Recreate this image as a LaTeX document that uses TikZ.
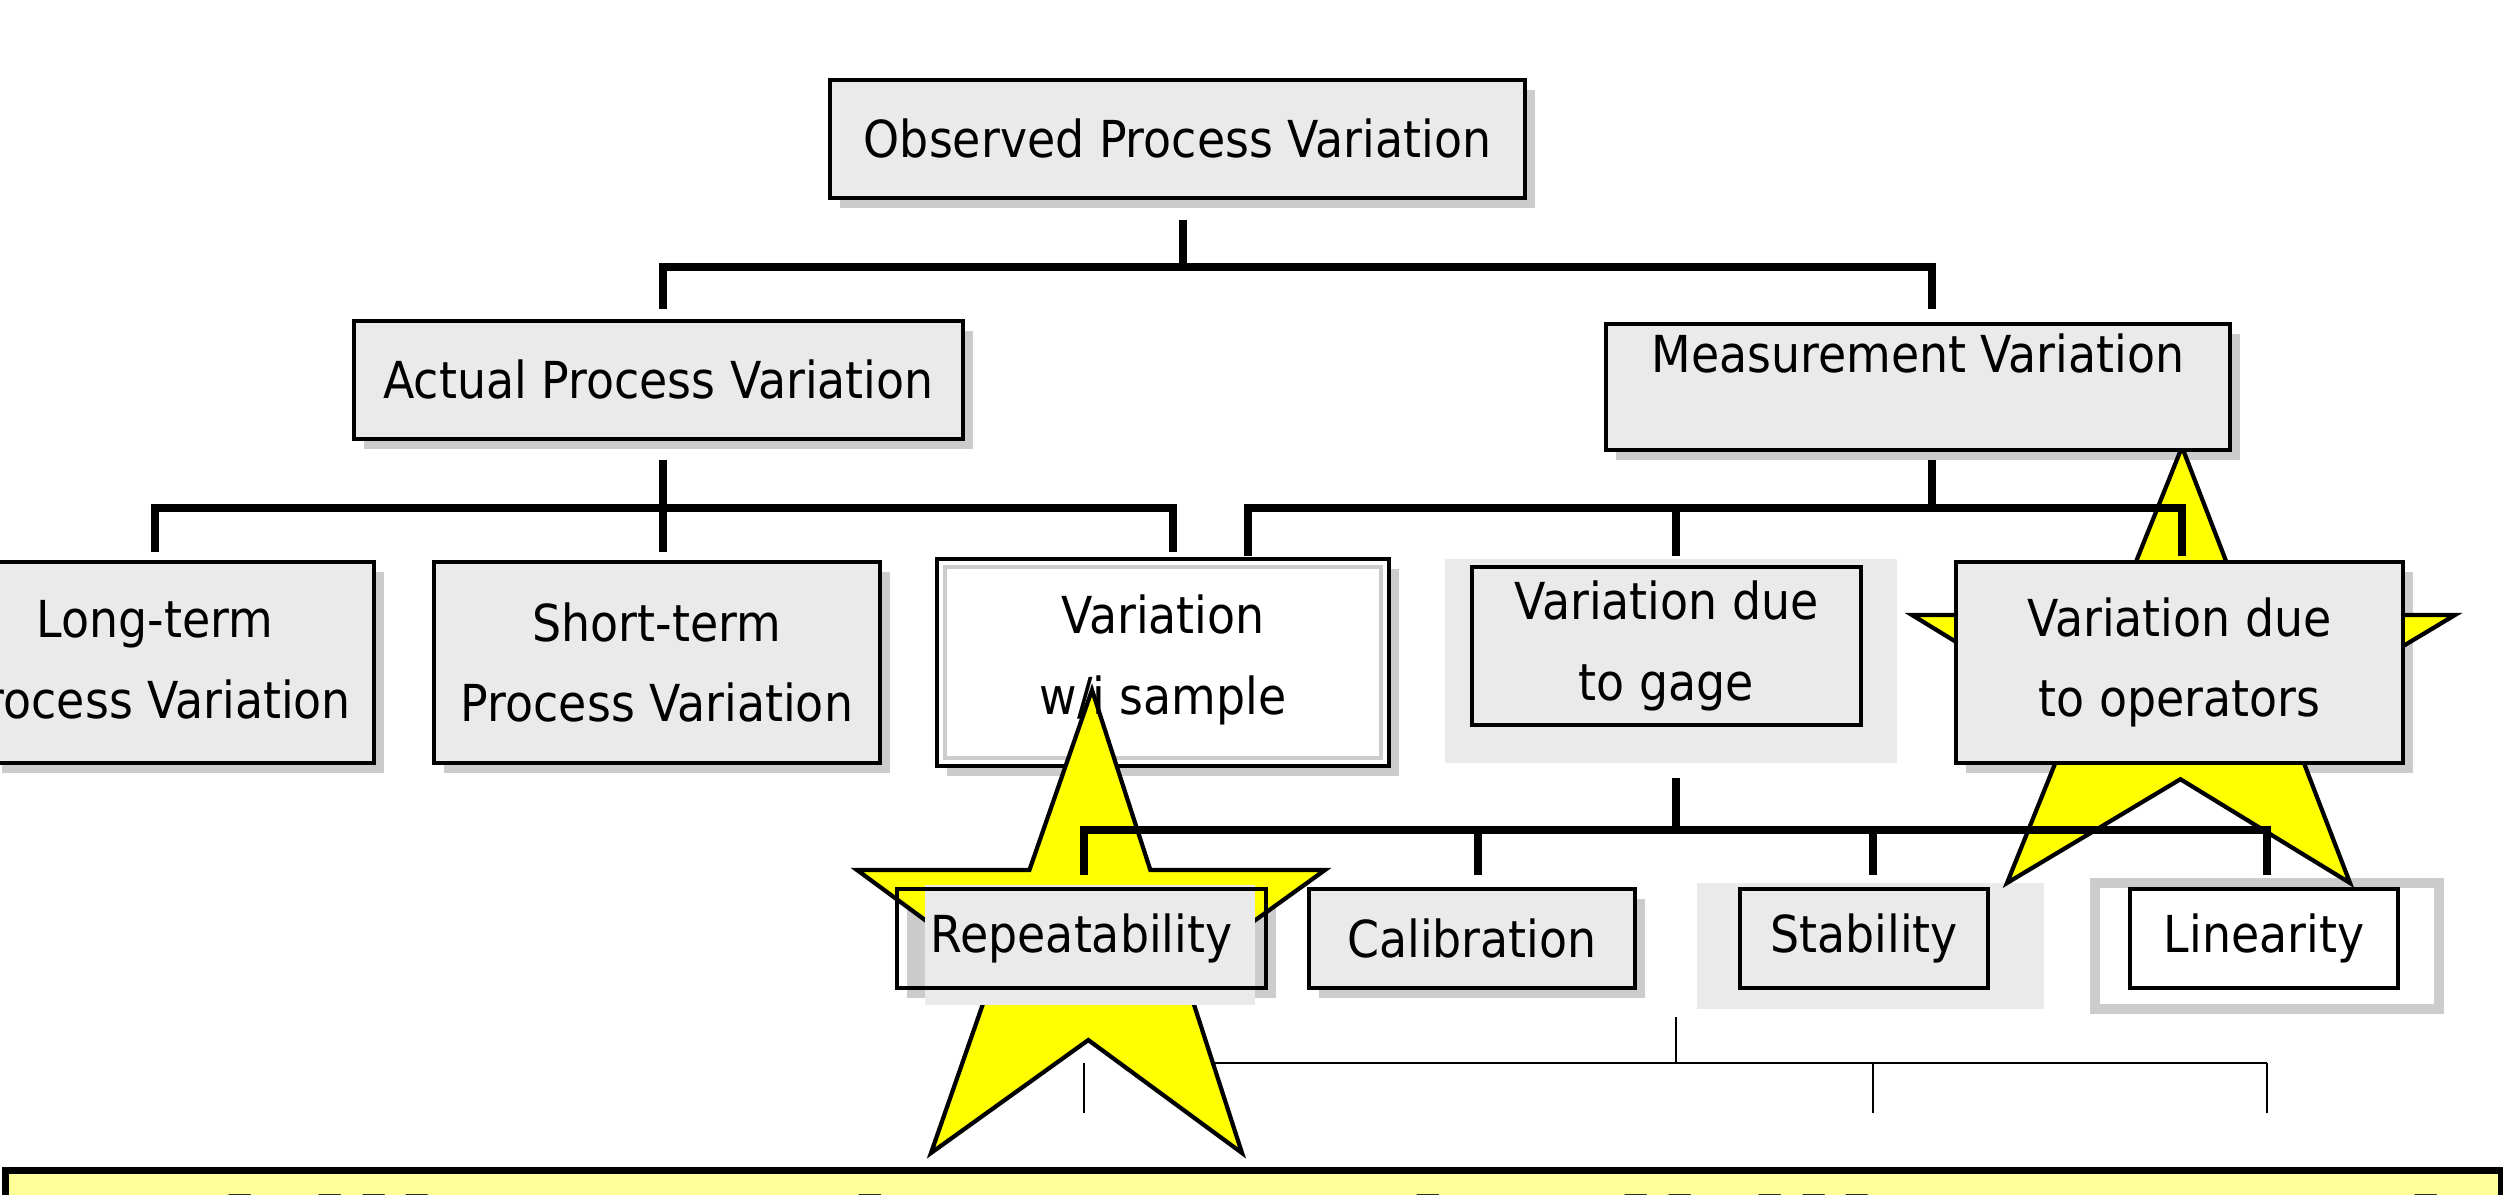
\documentclass[tikz,border=0pt]{standalone}
\usepackage{fontspec}
\setmainfont{DejaVu Sans}[FakeStretch=0.9]
\usetikzlibrary{calc}
\definecolor{boxgray}{RGB}{234,234,234}
\definecolor{shad}{RGB}{204,204,204}
\definecolor{stary}{RGB}{255,255,0}
\definecolor{bannery}{RGB}{255,255,153}
\tikzset{
  box/.style={draw=black,line width=1.3pt,fill=boxgray,inner sep=0pt,align=center,
    font=\fontsize{14.5}{23}\selectfont},
  wbox/.style={box,fill=white},
  conn/.style={line width=2.1pt},
  thin/.style={line width=0.5pt},
  txt/.style={align=center,inner sep=0pt,font=\fontsize{14.5}{23}\selectfont},
  starsty/.style={fill=stary,draw=black,line width=1.2pt,line join=miter}
}
\begin{document}
\begin{tikzpicture}[x=0.1mm,y=-0.1mm]
\useasboundingbox (0,0) rectangle (2503,1195);
\clip (0,0) rectangle (2503,1195);
\fill[white] (0,0) rectangle (2503,1195);

% shadows
\foreach \a/\b/\c/\d in {840/90/1535/208, 364/331/973/449, 1616/334/2240/460,
  2/572/384/773, 444/572/890/773, 947/569/1399/776, 1966/572/2413/773,
  907/899/1276/998, 1319/899/1645/998}
  \fill[shad] (\a,\b) rectangle (\c,\d);
\fill[boxgray] (1445,559) rectangle (1897,763);
\fill[boxgray] (1697,883) rectangle (2044,1009);
\draw[shad,line width=3pt] (2095,883) rectangle (2439,1009);

% star 2 (operators)
\coordinate (s2t) at (2182,447);
\coordinate (s2l) at (1912,615);
\coordinate (s2r) at (2455,615);
\coordinate (s2bl) at (2007,883);
\coordinate (s2br) at (2350,883);
\coordinate (s2i1) at (intersection of s2t--s2bl and s2l--s2r);
\coordinate (s2i2) at (intersection of s2t--s2br and s2l--s2r);
\coordinate (s2i3) at (intersection of s2r--s2bl and s2t--s2br);
\coordinate (s2i4) at (intersection of s2r--s2bl and s2l--s2br);
\coordinate (s2i5) at (intersection of s2t--s2bl and s2l--s2br);
\draw[starsty] (s2t) -- (s2i2) -- (s2r) -- (s2i3) -- (s2br) -- (s2i4) -- (s2bl) -- (s2i5) -- (s2l) -- (s2i1) -- cycle;

% boxes
\node[box,minimum width=695*0.1mm,minimum height=118*0.1mm] (obs) at (1177.5,139) {Observed Process Variation};
\node[box,minimum width=609*0.1mm,minimum height=118*0.1mm] (act) at (658.5,380) {Actual Process Variation};
\node[box,minimum width=624*0.1mm,minimum height=126*0.1mm] (meas) at (1918,387) {};
\node[txt] (meast) at (1918,354) {Measurement Variation};
\node[box,minimum width=382*0.1mm,minimum height=201*0.1mm] (long) at (183,662.5) {};
\node[txt] (longt) at (155,660) {Long-term\\Process Variation};
\node[box,minimum width=446*0.1mm,minimum height=201*0.1mm] (short) at (657,662.5) {Short-term\\Process Variation};
\node[wbox,minimum width=452*0.1mm,minimum height=207*0.1mm] (wis) at (1163,662.5) {};
\draw[shad,line width=1pt] (945,567) rectangle (1381,758);
\node[box,minimum width=389*0.1mm,minimum height=158*0.1mm] (gage) at (1666.5,646) {Variation due\\to gage};

% star 1 (repeatability)
\coordinate (s1t) at (1092,690);
\coordinate (s1l) at (857,870);
\coordinate (s1r) at (1325,870);
\coordinate (s1bl) at (931,1153);
\coordinate (s1br) at (1242,1153);
\coordinate (s1i1) at (intersection of s1t--s1bl and s1l--s1r);
\coordinate (s1i2) at (intersection of s1t--s1br and s1l--s1r);
\coordinate (s1i3) at (intersection of s1r--s1bl and s1t--s1br);
\coordinate (s1i4) at (intersection of s1r--s1bl and s1l--s1br);
\coordinate (s1i5) at (intersection of s1t--s1bl and s1l--s1br);
\draw[starsty] (s1t) -- (s1i2) -- (s1r) -- (s1i3) -- (s1br) -- (s1i4) -- (s1bl) -- (s1i5) -- (s1l) -- (s1i1) -- cycle;

\node[txt] (wist) at (1163,660) {Variation\\w/i sample};
\node[box,minimum width=447*0.1mm,minimum height=201*0.1mm] (oper) at (2179.5,662.5) {Variation due\\to operators};
\fill[boxgray] (925,885) rectangle (1255,1005);
\node[box,minimum width=369*0.1mm,minimum height=99*0.1mm,fill=none] (rep) at (1081.5,938.5) {Repeatability};
\node[box,minimum width=326*0.1mm,minimum height=99*0.1mm] (cal) at (1472,938.5) {Calibration};
\node[box,minimum width=248*0.1mm,minimum height=99*0.1mm] (stab) at (1864,938.5) {Stability};
\node[wbox,minimum width=268*0.1mm,minimum height=99*0.1mm] (lin) at (2264,938.5) {Linearity};

% connectors level 1
\coordinate (j1) at (1183,267);
\coordinate (j1a) at (1183,220);
\draw[conn] (j1a) -- (j1);
\draw[conn] ($(act.north)+(4.5,-10)$) |- (j1) -| ($(meas.north)+(14,-13)$);
% level 2 left
\coordinate (j2) at (663,508);
\coordinate (j2a) at (663,460);
\coordinate (d21) at (155,552);
\coordinate (d23) at (1173,552);
\draw[conn] (j2a) -- (j2);
\draw[conn] (d21) |- (j2) -| (d23);
\draw[conn] (j2) -- (663,552);
% level 2 right
\coordinate (j3) at (1932,508);
\coordinate (j3a) at (1932,460);
\coordinate (d31) at (1248,556);
\coordinate (d33) at (2182,556);
\draw[conn] (j3a) -- (j3);
\draw[conn] (d31) |- (j3) -| (d33);
\draw[conn] (1676,508) -- (1676,556);
% level 3
\coordinate (j4) at (1676,830);
\coordinate (j4a) at (1676,778);
\coordinate (d41) at (1084,875);
\coordinate (d44) at (2267,875);
\draw[conn] (j4a) -- (j4);
\draw[conn] (d41) |- (j4) -| (d44);
\draw[conn] (1478,830) -- (1478,875);
\draw[conn] (1873,830) -- (1873,875);
% thin lines
\coordinate (t0) at (1213,1063);
\coordinate (t1) at (2267,1063);
\draw[thin] (t0) -- (t1);
\draw[thin] (1676,1017) -- (1676,1063);
\draw[thin] (1873,1063) -- (1873,1113);
\draw[thin] (2267,1063) -- (2267,1113);
\draw[thin] (1084,1063) -- (1084,1113);

% banner
\node[draw=black,line width=2pt,fill=bannery,minimum width=2496*0.1mm,minimum height=80*0.1mm,inner sep=0pt,anchor=north west] (banner) at (2,1167) {};
\node[anchor=north,inner sep=0pt,font=\fontsize{40}{48}\bfseries] (bannert) at (1250,1194) {Repeatability and Reproducibility are the key};
\end{tikzpicture}
\end{document}
